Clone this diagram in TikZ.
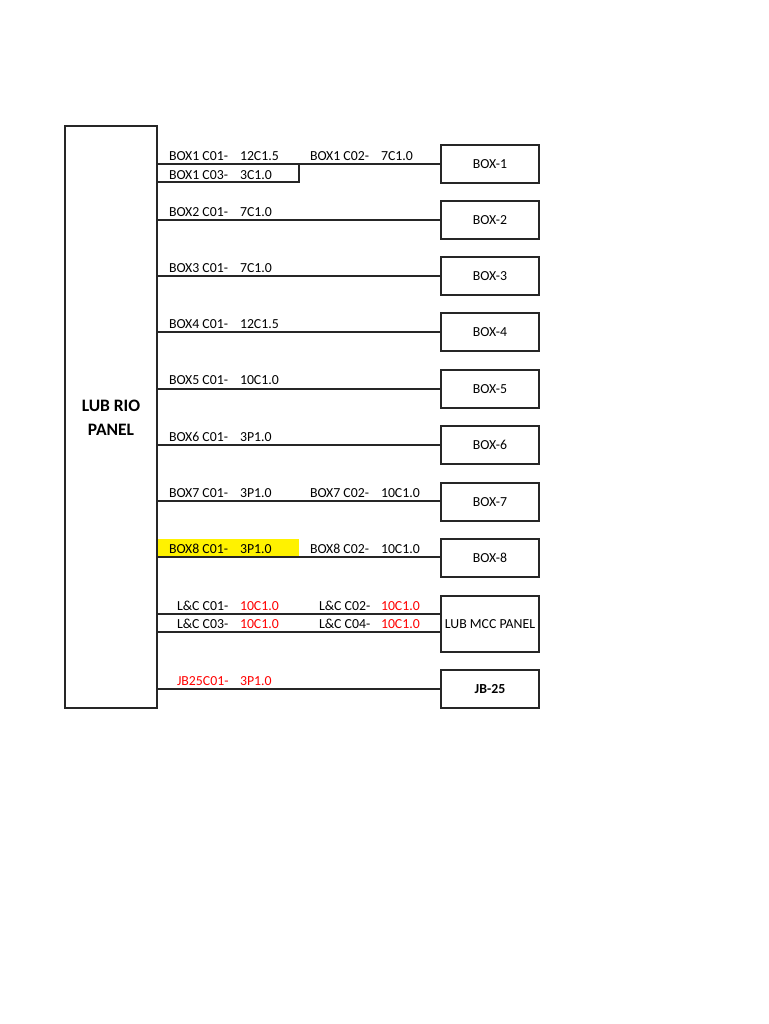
\documentclass[tikz,border=0pt]{standalone}
\usepackage{fontspec}
\setmainfont{Carlito}
\begin{document}
\begin{tikzpicture}[x=0.75pt,y=-0.75pt,
  every node/.style={inner sep=0pt,outer sep=0pt},
  wire/.style={line width=0.9pt,black!85},
  dest/.style={draw=black!85,line width=0.9pt,minimum width=73.5pt,minimum height=28.5pt,font=\fontsize{10.35}{12}\selectfont},
  lbl/.style={anchor=base west,font=\fontsize{10.35}{12}\selectfont},
  red lbl/.style={lbl,text=red}]
\fill[white] (0,0) rectangle (768,1024);
\useasboundingbox (0,0) rectangle (768,1024);
% panel
\node[draw=black!85,line width=0.9pt,minimum width=69pt,minimum height=436.5pt,anchor=north west] (panel) at (65,126) {};
\node[font=\bfseries\fontsize{13.1}{18}\selectfont,align=center] (paneltext) at (111,418) {LUB RIO\\PANEL};
% yellow highlight
\fill[yellow] (157.5,539) rectangle (299,557);
% destination boxes
\node[dest] (b1) at (490,164) {BOX-1};
\node[dest] (b2) at (490,220) {BOX-2};
\node[dest] (b3) at (490,276) {BOX-3};
\node[dest] (b4) at (490,332) {BOX-4};
\node[dest] (b5) at (490,389) {BOX-5};
\node[dest] (b6) at (490,445) {BOX-6};
\node[dest] (b7) at (490,502) {BOX-7};
\node[dest] (b8) at (490,558) {BOX-8};
\node[dest,minimum height=42pt] (mcc) at (490,624) {LUB MCC PANEL};
\node[dest,font=\bfseries\fontsize{10.35}{12}\selectfont] (jb) at (490,689) {JB-25};
% connectors
\draw[wire] (panel.east |- b1.west) -- (b1.west);
\coordinate (c3) at (299,164);
\draw[wire] (panel.east |- 0,182) -- (c3 |- 0,182) -- (c3);
\draw[wire] (panel.east |- b2.west) -- (b2.west);
\draw[wire] (panel.east |- b3.west) -- (b3.west);
\draw[wire] (panel.east |- b4.west) -- (b4.west);
\draw[wire] (panel.east |- b5.west) -- (b5.west);
\draw[wire] (panel.east |- b6.west) -- (b6.west);
\draw[wire] (panel.east |- 0,501) -- (b7.west |- 0,501);
\draw[wire] (panel.east |- 0,557) -- (b8.west |- 0,557);
\draw[wire] (panel.east |- 0,614) -- (mcc.west |- 0,614);
\draw[wire] (panel.east |- 0,632) -- (mcc.west |- 0,632);
\draw[wire] (panel.east |- jb.west) -- (jb.west);
% labels
\node[lbl] (t1a) at (169,160.5) {BOX1 C01-};
\node[lbl] (t1b) at (240,160.5) {12C1.5};
\node[lbl] (t1c) at (310,160.5) {BOX1 C02-};
\node[lbl] (t1d) at (381,160.5) {7C1.0};
\node[lbl] (t1e) at (169,179.5) {BOX1 C03-};
\node[lbl] (t1f) at (240,179.5) {3C1.0};
\node[lbl] (t2a) at (169,216.5) {BOX2 C01-};
\node[lbl] (t2b) at (240,216.5) {7C1.0};
\node[lbl] (t3a) at (169,272.5) {BOX3 C01-};
\node[lbl] (t3b) at (240,272.5) {7C1.0};
\node[lbl] (t4a) at (169,328.5) {BOX4 C01-};
\node[lbl] (t4b) at (240,328.5) {12C1.5};
\node[lbl] (t5a) at (169,384.5) {BOX5 C01-};
\node[lbl] (t5b) at (240,384.5) {10C1.0};
\node[lbl] (t6a) at (169,441.5) {BOX6 C01-};
\node[lbl] (t6b) at (240,441.5) {3P1.0};
\node[lbl] (t7a) at (169,497.5) {BOX7 C01-};
\node[lbl] (t7b) at (240,497.5) {3P1.0};
\node[lbl] (t7c) at (310,497.5) {BOX7 C02-};
\node[lbl] (t7d) at (381,497.5) {10C1.0};
\node[lbl] (t8a) at (169,553.5) {BOX8 C01-};
\node[lbl] (t8b) at (240,553.5) {3P1.0};
\node[lbl] (t8c) at (310,553.5) {BOX8 C02-};
\node[lbl] (t8d) at (381,553.5) {10C1.0};
\node[lbl] (l1a) at (177,610.5) {L\&C C01-};
\node[red lbl] (l1b) at (240,610.5) {10C1.0};
\node[lbl] (l2a) at (319,610.5) {L\&C C02-};
\node[red lbl] (l2b) at (381,610.5) {10C1.0};
\node[lbl] (l3a) at (177,628.5) {L\&C C03-};
\node[red lbl] (l3b) at (240,628.5) {10C1.0};
\node[lbl] (l4a) at (319,628.5) {L\&C C04-};
\node[red lbl] (l4b) at (381,628.5) {10C1.0};
\node[red lbl] (j1a) at (177,685.5) {JB25C01-};
\node[red lbl] (j1b) at (240,685.5) {3P1.0};
\end{tikzpicture}
\end{document}
